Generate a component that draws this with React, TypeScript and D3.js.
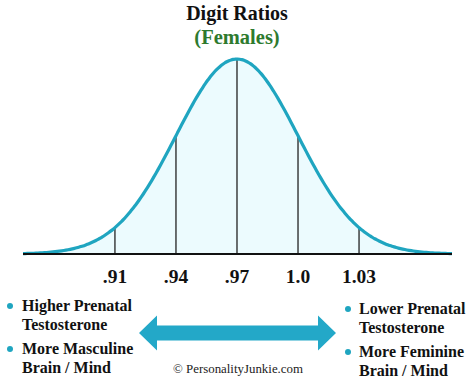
import React from 'react'
import * as d3 from 'd3'

const title = 'Digit Ratios'
const subtitle = '(Females)'
const mean = 0.97
const sd = 0.03
const xDomain = [0.8648, 1.0757]
const tickValues = [0.91, 0.94, 0.97, 1.0, 1.03]
const tickLabels = ['.91', '.94', '.97', '1.0', '1.03']
const leftNotes = [['Higher Prenatal', 'Testosterone'], ['More Masculine', 'Brain / Mind']]
const rightNotes = [['Lower Prenatal', 'Testosterone'], ['More Feminine', 'Brain / Mind']]
const credit = '© PersonalityJunkie.com'

const W = 474
const H = 387
const baseY = 254
const teal = '#1fa5c0'
const font = '"Liberation Serif", serif'

const pdf = (v: number) => Math.exp(-0.5 * ((v - mean) / sd) ** 2) / (sd * Math.sqrt(2 * Math.PI))

export default function App() {
  const x = d3.scaleLinear().domain(xDomain).range([23, 452])
  const y = d3.scaleLinear().domain([0, pdf(mean)]).range([baseY, 59])

  const pts = d3.range(xDomain[0], xDomain[1] + 1e-9, (xDomain[1] - xDomain[0]) / 200)
  const line = d3.line<number>().x(d => x(d)).y(d => y(pdf(d))).curve(d3.curveBasis)
  const area = d3.area<number>().x(d => x(d)).y0(baseY).y1(d => y(pdf(d))).curve(d3.curveBasis)

  // double arrow
  const ax0 = 139, ax1 = 336, ay = 333, head = 18, shaft = 7.5, hh = 17.5
  const arrow = `M${ax0},${ay} L${ax0 + head},${ay - hh} L${ax0 + head},${ay - shaft} L${ax1 - head},${ay - shaft} L${ax1 - head},${ay - hh} L${ax1},${ay} L${ax1 - head},${ay + hh} L${ax1 - head},${ay + shaft} L${ax0 + head},${ay + shaft} L${ax0 + head},${ay + hh} Z`

  const notes = (list: string[][], bx: number, tx: number, y0: number) =>
    list.map((lines, i) => (
      <g key={i}>
        <circle cx={bx} cy={y0 + i * 43 - 5} r={3} fill={teal} />
        {lines.map((t, j) => (
          <text key={j} x={tx} y={y0 + i * 43 + j * 19} fontSize={16} fontWeight="bold" fill="#111">{t}</text>
        ))}
      </g>
    ))

  return (
    <svg width={W} height={H} style={{ position: 'absolute', top: 0, left: 0, fontFamily: font }}>
      <rect width={W} height={H} fill="#fff" />
      <text x={237} y={20} textAnchor="middle" fontSize={20} fontWeight="bold" fill="#111">{title}</text>
      <text x={237} y={44} textAnchor="middle" fontSize={20.5} fontWeight="bold" fill="#2e7a2e">{subtitle}</text>

      <path d={area(pts) || ''} fill="#ecfbfe" />
      {tickValues.map(v => (
        <line key={v} x1={x(v)} x2={x(v)} y1={baseY} y2={y(pdf(v))} stroke="#222" strokeWidth={1.3} />
      ))}
      <path d={line(pts) || ''} fill="none" stroke={teal} strokeWidth={3.2} />
      <line x1={x.range()[0]} x2={x.range()[1]} y1={baseY} y2={baseY} stroke="#111" strokeWidth={2} />
      {tickValues.map((v, i) => (
        <text key={v} x={x(v)} y={283} textAnchor="middle" fontSize={19.5} fontWeight="bold" fill="#111">{tickLabels[i]}</text>
      ))}

      {notes(leftNotes, 10, 22, 311)}
      {notes(rightNotes, 348, 359, 314)}

      <path d={arrow} fill="#23a8c8" />
      <text x={173} y={373} fontSize={12.5} fill="#222" textLength={130} lengthAdjust="spacingAndGlyphs">{credit}</text>
    </svg>
  )
}
